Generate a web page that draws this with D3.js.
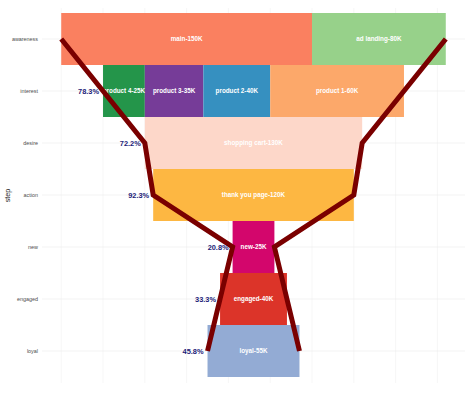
<!DOCTYPE html>
<html>
<head>
<meta charset="utf-8">
<script src="https://cdn.jsdelivr.net/npm/d3@7"></script>
<style>
  body { margin: 0; background: #fff; }
  text { font-family: "Liberation Sans", Arial, sans-serif; }
</style>
</head>
<body>
<div class="canvas"></div>
<script>
// funnel steps, top to bottom
const steps = ["awareness", "interest", "desire", "action", "new", "engaged", "loyal"];

// segments inside each step (values in K)
const segNames = [
  ["main", "ad landing"],
  ["product 4", "product 3", "product 2", "product 1"],
  ["shopping cart"],
  ["thank you page"],
  ["new"],
  ["engaged"],
  ["loyal"]
];
const segValues = [
  [150, 80],
  [25, 35, 40, 80],
  [130],
  [120],
  [25],
  [40],
  [55]
];
const segLabels = [
  ["main-150K", "ad landing-80K"],
  ["product 4-25K", "product 3-35K", "product 2-40K", "product 1-60K"],
  ["shopping cart-130K"],
  ["thank you page-120K"],
  ["new-25K"],
  ["engaged-40K"],
  ["loyal-55K"]
];
const pctLabels = ["", "78.3%", "72.2%", "92.3%", "20.8%", "33.3%", "45.8%"];

const segColors = {
  "main": "#fa8060", "ad landing": "#97d18a",
  "product 4": "#24954a", "product 3": "#763c98", "product 2": "#3690c0", "product 1": "#fca86a",
  "shopping cart": "#fdd7c9", "thank you page": "#fdb742",
  "new": "#d3066c", "engaged": "#dc3429", "loyal": "#93abd4"
};

const width = 474, height = 395;
const panel = {left: 42, right: 465, top: 8, bottom: 383};

const svg = d3.select(".canvas")
  .append("svg")
    .attr("width", width)
    .attr("height", height);

// flatten into rows with offsets so every step is centred
const totals = segValues.map(v => d3.sum(v));
const maxTotal = d3.max(totals);
const rows = [];
steps.forEach((s, i) => {
  let start = (maxTotal - totals[i]) / 2;
  segValues[i].forEach((v, j) => {
    rows.push({step: s, name: segNames[i][j], label: segLabels[i][j], x0: start, x1: start + v});
    start += v;
  });
});

const pad = maxTotal * 0.05;
const x = d3.scaleLinear()
  .domain([-pad, maxTotal + pad])
  .range([panel.left, panel.right]);

const y = d3.scaleBand()
  .domain(steps)
  .range([13, 377])
  .padding(0);

const cy = s => y(s) + y.bandwidth() / 2;

// grid
const grid = svg.append("g");
grid.selectAll("line.v")
  .data(d3.range(0, maxTotal + 1, 25))
  .enter().append("line")
    .attr("x1", d => x(d)).attr("x2", d => x(d))
    .attr("y1", panel.top).attr("y2", panel.bottom)
    .attr("stroke", "#f0f0f0").attr("stroke-width", 0.6);
grid.selectAll("line.h")
  .data(steps)
  .enter().append("line")
    .attr("x1", panel.left).attr("x2", panel.right)
    .attr("y1", d => cy(d)).attr("y2", d => cy(d))
    .attr("stroke", "#ebebeb").attr("stroke-width", 0.6);

// y axis labels
svg.append("g").selectAll("text")
  .data(steps)
  .enter().append("text")
    .attr("x", 38)
    .attr("y", d => cy(d))
    .attr("dy", "0.35em")
    .attr("text-anchor", "end")
    .attr("font-size", 5.4)
    .attr("fill", "#4d4d4d")
    .text(d => d);

svg.append("text")
  .attr("transform", `translate(10,${(panel.top + panel.bottom) / 2}) rotate(-90)`)
  .attr("text-anchor", "middle")
  .attr("font-size", 7.2)
  .attr("fill", "#222")
  .text("step");

// bars
svg.append("g").selectAll("rect")
  .data(rows)
  .enter().append("rect")
    .attr("x", d => x(d.x0))
    .attr("width", d => x(d.x1) - x(d.x0))
    .attr("y", d => y(d.step))
    .attr("height", y.bandwidth())
    .attr("fill", d => segColors[d.name]);

svg.append("g").selectAll("text")
  .data(rows)
  .enter().append("text")
    .attr("x", d => x((d.x0 + d.x1) / 2))
    .attr("y", d => cy(d.step))
    .attr("dy", "0.35em")
    .attr("text-anchor", "middle")
    .attr("font-size", 6.3)
    .attr("font-weight", "bold")
    .attr("fill", "#fff")
    .text(d => d.label);

// funnel outline
const leftPts = steps.map((s, i) => [x((maxTotal - totals[i]) / 2), cy(s)]);
const rightPts = steps.map((s, i) => [x((maxTotal + totals[i]) / 2), cy(s)]);
const line = d3.line();
svg.selectAll("path.edge")
  .data([leftPts, rightPts])
  .enter().append("path")
    .attr("d", line)
    .attr("fill", "none")
    .attr("stroke", "#7a0000")
    .attr("stroke-width", 5)
    .attr("stroke-linejoin", "miter");

// conversion percentages
svg.append("g").selectAll("text")
  .data(steps)
  .enter().append("text")
    .attr("x", (d, i) => leftPts[i][0] - 4)
    .attr("y", d => cy(d))
    .attr("dy", "0.35em")
    .attr("text-anchor", "end")
    .attr("font-size", 7.4)
    .attr("font-weight", "bold")
    .attr("fill", "#1c1c78")
    .text((d, i) => pctLabels[i]);
</script>
</body>
</html>
